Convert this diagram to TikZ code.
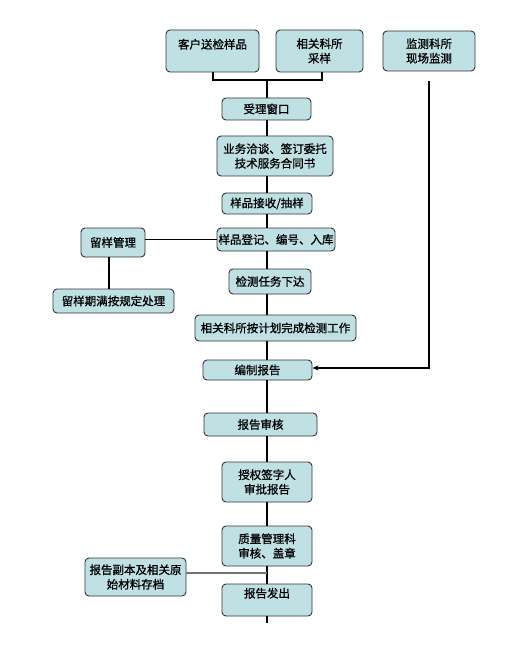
\documentclass[tikz,border=0pt]{standalone}
\usepackage{fontspec}
\newfontfamily\cjk[FakeBold=1]{Noto Sans CJK SC}
\usetikzlibrary{arrows.meta}
\definecolor{boxfill}{HTML}{BFE1E4}
\definecolor{boxline}{HTML}{333333}
\tikzset{
  box/.style={draw=boxline, line width=0.9pt, fill=boxfill, rounded corners=4pt,
    align=center, inner sep=1pt, font=\cjk\fontsize{11.5}{14.5}\selectfont},
  conn/.style={line width=1.8pt, black},
  thinconn/.style={line width=1.5pt, black!55},
}
\begin{document}
\begin{tikzpicture}[x=1pt,y=-1pt]
\useasboundingbox (0,0) rectangle (528,652);
\fill[white] (0,0) rectangle (528,652);
% nodes
\node[box, minimum width=93pt, minimum height=42pt] (k1) at (212.5,51) {客户送检样品\\ \mbox{}};
\node[box, minimum width=87pt, minimum height=42pt] (k2) at (319.5,51) {相关科所\\采样};
\node[box, minimum width=92pt, minimum height=40pt] (k3) at (429,51) {监测科所\\现场监测};
\node[box, minimum width=89pt, minimum height=22pt] (k4) at (266.5,109) {受理窗口};
\node[box, minimum width=116pt, minimum height=40pt] (k5) at (275,156) {业务洽谈、签订委托\\技术服务合同书};
\node[box, minimum width=90pt, minimum height=21pt] (k6) at (267,203.5) {样品接收/抽样};
\node[box, minimum width=118pt, minimum height=23pt] (k7) at (276,239.5) {样品登记、编号、入库};
\node[box, minimum width=64pt, minimum height=29pt] (k8) at (113,242.5) {留样管理};
\node[box, minimum width=121pt, minimum height=24pt] (k9) at (113.5,301) {留样期满按规定处理};
\node[box, minimum width=82pt, minimum height=25pt] (k10) at (270,281.5) {检测任务下达};
\node[box, minimum width=161pt, minimum height=26pt] (k11) at (275.5,328) {相关科所按计划完成检测工作};
\node[box, minimum width=109pt, minimum height=20pt] (k12) at (257.5,370) {编制报告};
\node[box, minimum width=113pt, minimum height=23pt] (k13) at (260.5,424.5) {报告审核};
\node[box, minimum width=90pt, minimum height=40pt] (k14) at (267,482) {授权签字人\\审批报告};
\node[box, minimum width=90pt, minimum height=40pt] (k15) at (267,546) {质量管理科\\审核、盖章};
\node[box, minimum width=101pt, minimum height=38pt] (k16) at (135.5,577) {报告副本及相关原\\始材料存档};
\node[box, minimum width=90pt, minimum height=32pt] (k17) at (267,600) {报告发出\\ \mbox{}};
% helper coordinates
\coordinate (ax) at (267,0);
\coordinate (j1) at (213,80);
\coordinate (j2) at (322,80);
\coordinate (jm) at (267,80);
\coordinate (ms) at (429,81);
\coordinate (mc) at (429,368);
\coordinate (endc) at (267,623);
\coordinate (lx) at (109,0);
% connectors
\draw[conn] (k1.south -| j1) -- (j1) -- (j2) -- (k2.south -| j2);
\draw[conn] (jm) -- (ax |- k4.north);
\draw[conn] (ax |- k4.south) -- (ax |- k5.north);
\draw[conn] (ax |- k5.south) -- (ax |- k6.north);
\draw[conn] (ax |- k6.south) -- (ax |- k7.north);
\draw[conn] (ax |- k7.south) -- (ax |- k10.north);
\draw[conn] (ax |- k10.south) -- (ax |- k11.north);
\draw[conn] (ax |- k11.south) -- (ax |- k12.north);
\draw[conn] (ax |- k12.south) -- (ax |- k13.north);
\draw[conn] (ax |- k13.south) -- (ax |- k14.north);
\draw[conn] (ax |- k14.south) -- (ax |- k15.north);
\draw[conn] (ax |- k15.south) -- (ax |- k17.north);
\draw[conn] (ax |- k17.south) -- (endc);
\draw[conn] (k7.west) -- (k7.west -| k8.east);
\draw[conn] (lx |- k8.south) -- (lx |- k9.north);
\draw[conn, -{Stealth[length=6pt,width=5pt]}] (ms) -- (mc) -- (mc -| k12.east);
\draw[thinconn] (k16.east |- 0,573) -- (267,573);
\end{tikzpicture}
\end{document}
